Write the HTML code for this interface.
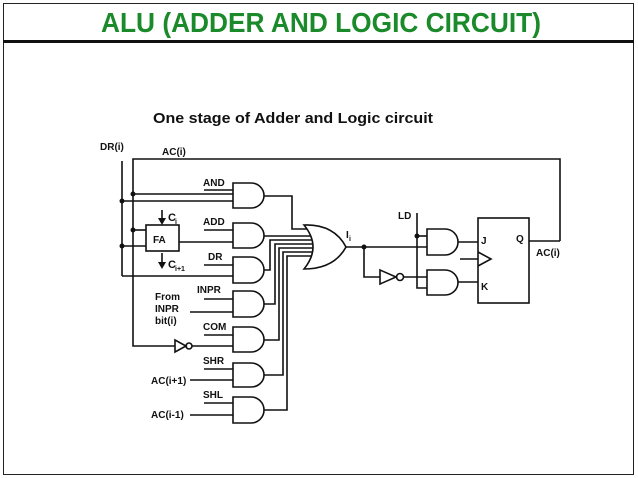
<!DOCTYPE html>
<html><head><meta charset="utf-8"><style>
html,body{margin:0;padding:0;background:#fff;}
svg{display:block;}
text{font-family:"Liberation Sans",sans-serif;font-weight:bold;fill:#111;}
</style></head><body>
<svg width="638" height="478" viewBox="0 0 638 478" xmlns="http://www.w3.org/2000/svg">
<rect x="3.5" y="3.5" width="630" height="471" fill="#fff" stroke="#222" stroke-width="1"/>
<line x1="3" y1="41.5" x2="634" y2="41.5" stroke="#111" stroke-width="3"/>
<text x="321" y="32" text-anchor="middle" font-size="28" style="fill:#1a8a2a" textLength="440" lengthAdjust="spacingAndGlyphs">ALU (ADDER  AND  LOGIC  CIRCUIT)</text>
<text x="153" y="123" font-size="15" textLength="280" lengthAdjust="spacingAndGlyphs">One stage of Adder and Logic circuit</text>
<g stroke="#111" stroke-width="1.6" fill="none">
<line x1="122" y1="161" x2="122" y2="276"/>
<polyline points="560,241 560,159 133,159 133,346 175,346"/>
<line x1="204" y1="190" x2="233" y2="190"/>
<line x1="133" y1="194" x2="233" y2="194"/>
<line x1="122" y1="201" x2="233" y2="201"/>
<rect x="146" y="225" width="33" height="26"/>
<line x1="133" y1="230" x2="146" y2="230"/>
<line x1="122" y1="246" x2="146" y2="246"/>
<line x1="179" y1="242" x2="233" y2="242"/>
<line x1="204" y1="230" x2="233" y2="230"/>
<line x1="162" y1="210" x2="162" y2="222"/>
<line x1="162" y1="253" x2="162" y2="266"/>
<line x1="204" y1="265" x2="233" y2="265"/>
<line x1="122" y1="276" x2="233" y2="276"/>
<line x1="204" y1="299" x2="233" y2="299"/>
<line x1="190" y1="312" x2="233" y2="312"/>
<line x1="204" y1="335" x2="233" y2="335"/>
<path d="M175 340 L175 352 L186 346 Z"/>
<circle cx="189" cy="346" r="3"/>
<line x1="192" y1="346" x2="233" y2="346"/>
<line x1="204" y1="369" x2="233" y2="369"/>
<line x1="190" y1="380" x2="233" y2="380"/>
<line x1="204" y1="403" x2="233" y2="403"/>
<line x1="190" y1="415" x2="233" y2="415"/>
<path d="M233 183 H251 A13 12.5 0 0 1 251 208 H233 Z"/>
<path d="M233 223 H251 A13 12.5 0 0 1 251 248 H233 Z"/>
<path d="M233 257 H251 A13 13 0 0 1 251 283 H233 Z"/>
<path d="M233 291 H251 A13 13 0 0 1 251 317 H233 Z"/>
<path d="M233 327 H251 A13 12.5 0 0 1 251 352 H233 Z"/>
<path d="M233 363 H251 A13 12 0 0 1 251 387 H233 Z"/>
<path d="M233 397 H251 A13 13 0 0 1 251 423 H233 Z"/>
<polyline points="264,196 292,196 292,229 311,229"/>
<polyline points="264,236 314,236"/>
<polyline points="264,270 270,270 270,240 315,240"/>
<polyline points="264,304 275,304 275,244 315,244"/>
<polyline points="264,340 279,340 279,248 315,248"/>
<polyline points="264,375 283,375 283,252 314,252"/>
<polyline points="264,410 287,410 287,256 313,256"/>
<path d="M304 225 Q334 224 346 247 Q334 269 304 269 Q322 247 304 225 Z" fill="#fff"/>
<line x1="346" y1="247" x2="427" y2="247"/>
<polyline points="364,247 364,277 380,277"/>
<path d="M380 270 L380 284 L396 277 Z"/>
<circle cx="400" cy="277" r="3.5"/>
<line x1="404" y1="277" x2="427" y2="277"/>
<polyline points="417,213 417,288 427,288"/>
<line x1="417" y1="236" x2="427" y2="236"/>
<path d="M427 229 H445 A13 13 0 0 1 445 255 H427 Z"/>
<path d="M427 270 H445 A13 12.5 0 0 1 445 295 H427 Z"/>
<line x1="458" y1="242" x2="478" y2="242"/>
<line x1="458" y1="282" x2="478" y2="282"/>
<rect x="478" y="218" width="51" height="85"/>
<polyline points="478,252 491,259 478,266"/>
<line x1="460" y1="259" x2="478" y2="259"/>
<line x1="529" y1="241" x2="560" y2="241"/>
</g>
<g fill="#111">
<circle cx="122" cy="201" r="2.5"/><circle cx="133" cy="194" r="2.5"/>
<circle cx="133" cy="230" r="2.5"/><circle cx="122" cy="246" r="2.5"/>
<circle cx="364" cy="247" r="2.5"/><circle cx="417" cy="236" r="2.5"/>
<path d="M158 218 L166 218 L162 225 Z"/><path d="M158 262 L166 262 L162 269 Z"/>
</g>
<g font-size="10">
<text x="100" y="150">DR(i)</text>
<text x="162" y="155">AC(i)</text>
<text x="203" y="186">AND</text>
<text x="203" y="225">ADD</text>
<text x="208" y="260">DR</text>
<text x="197" y="293">INPR</text>
<text x="155" y="300">From</text>
<text x="155" y="312">INPR</text>
<text x="155" y="324">bit(i)</text>
<text x="203" y="330">COM</text>
<text x="203" y="364">SHR</text>
<text x="151" y="384">AC(i+1)</text>
<text x="203" y="398">SHL</text>
<text x="151" y="418">AC(i-1)</text>
<text x="153" y="243">FA</text>
<text x="168" y="221" font-size="11">C</text><text x="175" y="224" font-size="7">i</text>
<text x="168" y="268" font-size="11">C</text><text x="175" y="271" font-size="7">i+1</text>
<text x="346" y="238">I</text><text x="349" y="241" font-size="7">i</text>
<text x="398" y="219">LD</text>
<text x="481" y="244">J</text>
<text x="481" y="290">K</text>
<text x="516" y="242">Q</text>
<text x="536" y="256">AC(i)</text>
</g>
</svg>
</body></html>
